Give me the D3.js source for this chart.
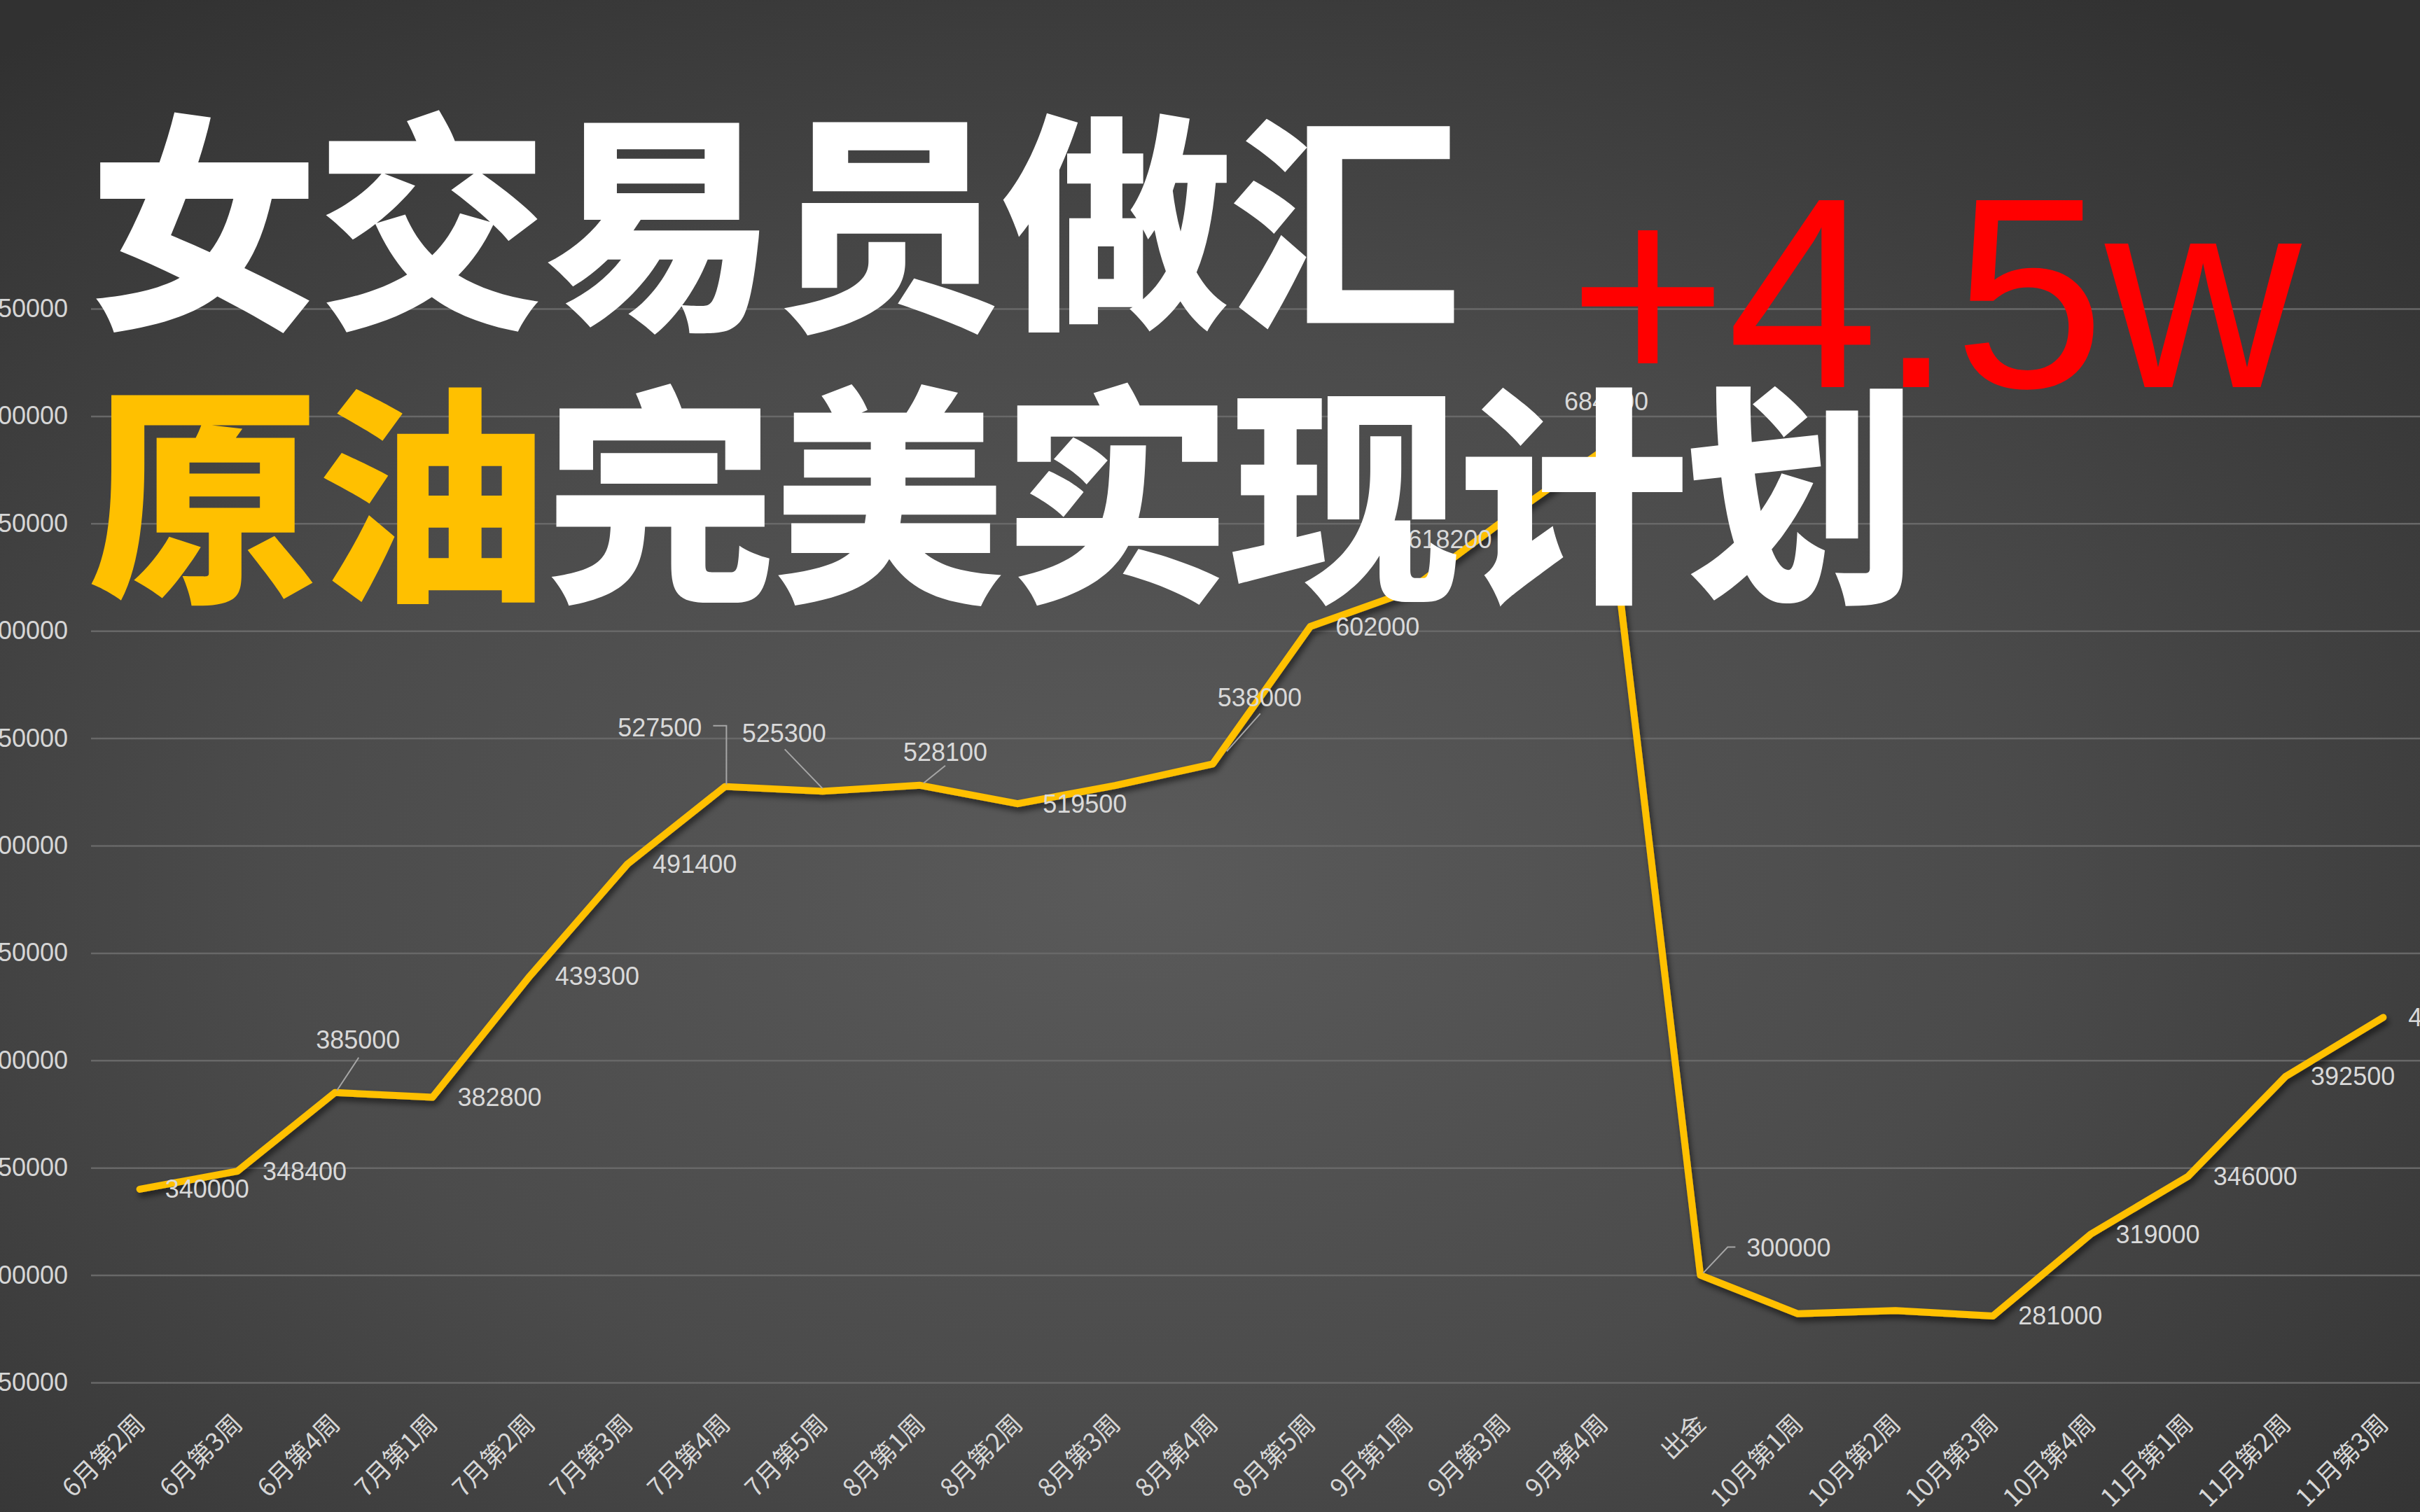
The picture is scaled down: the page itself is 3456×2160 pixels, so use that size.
<!DOCTYPE html>
<html>
<head>
<meta charset="utf-8">
<script src="https://cdn.jsdelivr.net/npm/d3@7"></script>
<style>
  html, body { margin: 0; padding: 0; background: #333; overflow: hidden; }
  svg { display: block; }
</style>
</head>
<body>
<div id="chart"></div>
<script>
// Chart data
var weeks = ["6月第2周", "6月第3周", "6月第4周", "7月第1周", "7月第2周", "7月第3周",
  "7月第4周", "7月第5周", "8月第1周", "8月第2周", "8月第3周", "8月第4周", "8月第5周",
  "9月第1周", "9月第3周", "9月第4周", "出金", "10月第1周", "10月第2周", "10月第3周",
  "10月第4周", "11月第1周", "11月第2周", "11月第3周"];
var balance = [340000, 348400, 385000, 382800, 439300, 491400, 527500, 525300, 528100,
  519500, 528000, 538000, 602000, 618200, 652000, 684000, 300000, 282000, 283500,
  281000, 319000, 346000, 392500, 420000];
var yTicks = [250000, 300000, 350000, 400000, 450000, 500000, 550000, 600000, 650000, 700000, 750000];
// weeks whose value label is not shown on the chart
var unlabeled = ["8月第3周", "9月第3周", "10月第1周", "10月第2周"];
var titleLine1 = "女交易员做汇";
var titleHighlight = "原油";
var titleRest = "完美实现计划";
var gainText = "+4.5w";

// Chart area
var svgWidth = 3456;
var svgHeight = 2160;
var plot = { left: 130, right: 3473, top: 441, bottom: 1975 };

var svg = d3.select("#chart")
  .append("svg")
  .attr("width", svgWidth)
  .attr("height", svgHeight);

var defs = svg.append("defs");
var bg = defs.append("radialGradient")
  .attr("id", "bg")
  .attr("cx", "0.47").attr("cy", "0.58").attr("r", "0.72");
bg.append("stop").attr("offset", "0%").attr("stop-color", "#5a5a5a");
bg.append("stop").attr("offset", "50%").attr("stop-color", "#4b4b4b");
bg.append("stop").attr("offset", "100%").attr("stop-color", "#313131");

var shadow = defs.append("filter").attr("id", "shadow")
  .attr("x", "-5%").attr("y", "-5%").attr("width", "110%").attr("height", "110%");
shadow.append("feDropShadow")
  .attr("dx", 3).attr("dy", 6).attr("stdDeviation", 4)
  .attr("flood-color", "#000").attr("flood-opacity", 0.55);

svg.append("rect")
  .attr("width", svgWidth)
  .attr("height", svgHeight)
  .attr("fill", "url(#bg)");

// Scales
var x = d3.scalePoint()
  .domain(weeks)
  .range([plot.left, plot.right])
  .padding(0.5);
var y = d3.scaleLinear()
  .domain([250000, 750000])
  .range([plot.bottom, plot.top]);

// Y axis with gridlines
var yAxis = svg.append("g")
  .attr("transform", `translate(${plot.left}, 0)`)
  .call(d3.axisLeft(y).tickValues(yTicks).tickSize(-(svgWidth - plot.left)).tickPadding(33).tickFormat(d3.format("d")));
yAxis.select(".domain").remove();
yAxis.selectAll(".tick line")
  .attr("stroke", "#686868")
  .attr("stroke-width", 2.5);
yAxis.selectAll(".tick text")
  .attr("fill", "#d6d6d6")
  .style("font-family", "'Liberation Sans', Arial, sans-serif")
  .style("font-size", "36px");

// X axis labels
var xAxis = svg.append("g")
  .attr("transform", `translate(0, ${plot.bottom})`)
  .call(d3.axisBottom(x).tickSize(0));
xAxis.select(".domain").remove();
xAxis.selectAll(".tick text")
  .attr("fill", "#d6d6d6")
  .style("font-family", "'Noto Sans CJK SC', sans-serif")
  .style("font-size", "36px")
  .attr("text-anchor", "end")
  .attr("dy", "0.35em")
  .attr("transform", "translate(-2, 50) rotate(-45)");

// Line
var series = weeks.map(function (w, i) { return { week: w, value: balance[i] }; });
var line = d3.line()
  .x(d => x(d.week))
  .y(d => y(d.value));

svg.append("path")
  .datum(series)
  .attr("d", line)
  .attr("fill", "none")
  .attr("stroke", "#FFC000")
  .attr("stroke-width", 10)
  .attr("stroke-linejoin", "round")
  .attr("stroke-linecap", "round")
  .attr("filter", "url(#shadow)");

// Data label placement (offsets from the point, px)
var labelPlace = {
  "6月第4周": { dx: -27, dy: -75, anchor: "start", leader: [[34, -50], [3, -3]] },
  "7月第4周": { dx: -33, dy: -84, anchor: "end", leader: [[-17, -87], [2, -87], [2, -3]] },
  "7月第5周": { dx: -115, dy: -83, anchor: "start", leader: [[-54, -60], [0, -4]] },
  "8月第1周": { dx: -24, dy: -47, anchor: "start", leader: [[36, -28], [5, -3]] },
  "8月第4周": { dx: 7, dy: -95, anchor: "start", leader: [[68, -72], [20, -18]] },
  "9月第1周": { dx: 0, dy: -75, anchor: "start" },
  "9月第4周": { dx: 5, dy: -70, anchor: "middle" },
  "出金": { dx: 66, dy: -39, anchor: "start", leader: [[50, -40], [39, -40], [4, -3]] }
};
var defaultPlace = { dx: 36, dy: 0, anchor: "start" };

var labeled = series.filter(d => unlabeled.indexOf(d.week) < 0);
var labels = svg.append("g");

labels.selectAll("polyline")
  .data(labeled.filter(d => labelPlace[d.week] && labelPlace[d.week].leader))
  .enter()
  .append("polyline")
  .attr("points", function (d) {
    var px = x(d.week), py = y(d.value);
    return labelPlace[d.week].leader.map(p => (px + p[0]) + "," + (py + p[1])).join(" ");
  })
  .attr("fill", "none")
  .attr("stroke", "#a6a6a6")
  .attr("stroke-width", 2);

labels.selectAll("text")
  .data(labeled)
  .enter()
  .append("text")
  .text(d => d.value)
  .attr("x", d => x(d.week) + (labelPlace[d.week] || defaultPlace).dx)
  .attr("y", d => y(d.value) + (labelPlace[d.week] || defaultPlace).dy)
  .attr("dy", "0.35em")
  .attr("text-anchor", d => (labelPlace[d.week] || defaultPlace).anchor)
  .attr("fill", "#d9d9d9")
  .style("font-family", "'Liberation Sans', Arial, sans-serif")
  .style("font-size", "36px");

// Title
var title = svg.append("g")
  .style("font-family", "'Noto Sans CJK SC', 'Noto Sans CJK TC', sans-serif")
  .style("font-weight", 900)
  .style("font-size", "330px")
  .style("letter-spacing", "-4px");

title.append("text")
  .attr("x", 126)
  .attr("y", 444)
  .attr("fill", "#ffffff")
  .text(titleLine1);

var line2 = title.append("text")
  .attr("x", 126)
  .attr("y", 834);
line2.append("tspan")
  .attr("fill", "#FFC000")
  .text(titleHighlight);
line2.append("tspan")
  .attr("fill", "#ffffff")
  .text(titleRest);

svg.append("text")
  .attr("x", 2240)
  .attr("y", 553)
  .attr("fill", "#FF0000")
  .style("font-family", "'Liberation Sans', Arial, sans-serif")
  .style("font-size", "388px")
  .text(gainText);
</script>
</body>
</html>
